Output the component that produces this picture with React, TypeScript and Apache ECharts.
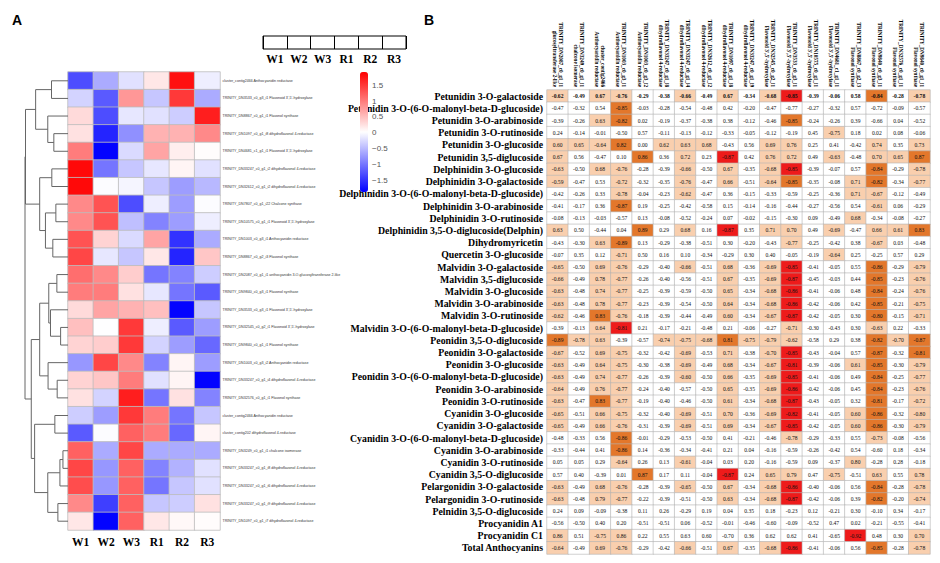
import React, { useEffect, useRef } from "react";
import * as echarts from "echarts";

// ---------- Panel A: expression heatmap ----------
const SAMPLES = ["W1", "W2", "W3", "R1", "R2", "R3"];

const GENES_A = [
  "cluster_contig2466 Anthocyanidin reductase",
  "TRINITY_DN3533_c0_g3_i1 Flavonoid 3',5'-hydroxylase",
  "TRINITY_DN8867_c0_g1_i1 Flavonol synthase",
  "TRINITY_DN1097_c0_g1_i8 dihydroflavonol 4-reductase",
  "TRINITY_DN4681_c1_g1_i1 Flavonoid 3',5'-hydroxylase",
  "TRINITY_DN33247_c0_g1_i2 dihydroflavonol 4-reductase",
  "TRINITY_DN32612_c0_g1_i2 dihydroflavonol 4-reductase",
  "TRINITY_DN7807_c0_g1_i22 Chalcone synthase",
  "TRINITY_DN10575_c0_g1_i1 Flavonoid 3',5'-hydroxylase",
  "TRINITY_DN1003_c0_g3_i1 Anthocyanidin reductase",
  "TRINITY_DN8867_c0_g2_i3 Flavonol synthase",
  "TRINITY_DN2087_c0_g1_i1 anthocyanidin 3-O-glucosyltransferase 2-like",
  "TRINITY_DN9840_c0_g3_i1 Flavonol synthase",
  "TRINITY_DN3533_c0_g3_i1 Flavonoid 3',5'-hydroxylase",
  "TRINITY_DN32545_c0_g2_i1 Flavonoid 3',5'-hydroxylase",
  "TRINITY_DN9840_c0_g1_i1 Flavonol synthase",
  "TRINITY_DN1003_c0_g3_i2 Anthocyanidin reductase",
  "TRINITY_DN33247_c0_g1_i4 dihydroflavonol 4-reductase",
  "TRINITY_DN32576_c0_g1_i1 Flavonol synthase",
  "cluster_contig2466 Anthocyanidin reductase",
  "cluster_contig202 dihydroflavonol 4-reductase",
  "TRINITY_DN3249_c0_g1_i1 chalcone isomerase",
  "TRINITY_DN33247_c0_g1_i8 dihydroflavonol 4-reductase",
  "TRINITY_DN33247_c0_g1_i6 dihydroflavonol 4-reductase",
  "TRINITY_DN33247_c0_g1_i9 dihydroflavonol 4-reductase",
  "TRINITY_DN1097_c0_g1_i7 dihydroflavonol 4-reductase",
];

// row-scaled expression (z-score), one row per gene, columns W1..R3
const EXPR_A = [
  [-1.3, -0.6, -0.2, 0.2, 1.8, -0.1],
  [-0.3, -1.2, 0.8, -0.4, 1.5, -0.6],
  [0.3, -1.3, -0.15, -0.2, -0.35, 1.7],
  [0.25, -1.6, -0.8, 0.6, 0.6, 0.9],
  [1.0, -1.85, -0.25, 0.7, 0.15, 0.05],
  [1.85, -1.0, -0.4, -0.15, 0.1, -0.2],
  [1.85, 0.0, -0.05, -0.4, -0.7, -0.5],
  [0.9, 1.3, -1.3, -0.1, -0.7, 0.0],
  [0.9, 1.3, -0.45, -0.9, -0.7, -0.1],
  [1.3, 0.35, -0.25, 0.7, -1.5, -0.6],
  [1.4, -0.15, -0.4, 0.2, -1.6, 0.45],
  [1.1, 0.9, 0.4, -1.0, -0.9, -0.35],
  [1.0, 1.0, 0.25, -0.15, -1.0, -1.2],
  [0.3, 0.7, 0.6, 0.5, -1.85, -0.4],
  [0.5, 0.02, 1.5, -0.1, -1.2, -0.7],
  [0.35, 0.4, 1.5, -0.3, -0.7, -1.1],
  [-0.75, 1.4, 0.9, -0.9, 0.1, -0.7],
  [0.35, 0.45, 1.0, -0.2, 0.1, -1.85],
  [0.25, -0.3, 1.7, -1.0, 0.25, -0.9],
  [-0.35, -0.7, 1.5, 1.0, -1.0, -0.4],
  [-1.2, 0.0, 1.2, 1.0, -1.1, 0.1],
  [1.2, -0.6, 1.4, -0.6, -0.6, -0.6],
  [1.4, -0.75, 1.2, -0.9, -0.55, -0.2],
  [1.35, -0.75, 1.2, -1.0, -0.4, -0.2],
  [0.9, -1.4, 1.2, -0.4, -0.35, 0.25],
  [0.2, -1.85, 1.2, 0.2, 0.08, 0.05],
];

const SCALE_MIN = -1.87;
const SCALE_MAX = 1.92;
const SCALE_TICKS = [-1.5, -1, -0.5, 0, 0.5, 1, 1.5];

// Row clustering: leaves are row indices, internal nodes carry merge height
type Node = number | { l: Node; r: Node; h: number };
const n = (l: Node, r: Node, h: number): Node => ({ l, r, h });
const ROW_TREE: Node = n(
  n(
    n(n(0, 1, 16.3), n(2, n(3, 4, 14), 20), 32),
    n(n(5, 6, 16), n(n(7, 8, 12), n(9, 10, 15), 22.3), 28),
    42
  ),
  n(
    n(n(n(11, 12, 11), n(13, n(14, 15, 7.3), 17.3), 19), n(16, n(17, 18, 10.7), 19.7), 28),
    n(n(19, 20, 13), n(n(n(21, 22, 5), 23, 8), n(24, 25, 10), 20), 33),
    36.3
  ),
  42.5
);
const TREE_MAX = 43;

// ---------- Panel B: correlation table ----------
const GENE_IDS_B = [
  "TRINITY_DN2087_c0_g1_i1",
  "TRINITY_DN3249_c0_g1_i1",
  "cluster_contig2466",
  "TRINITY_DN1003_c0_g3_i1",
  "TRINITY_DN1003_c0_g3_i2",
  "TRINITY_DN33247_c0_g1_i8",
  "TRINITY_DN33247_c0_g1_i4",
  "TRINITY_DN32612_c0_g1_i2",
  "TRINITY_DN1097_c0_g1_i8",
  "TRINITY_DN33247_c0_g1_i9",
  "TRINITY_DN32545_c0_g2_i1",
  "TRINITY_DN3533_c0_g3_i1",
  "TRINITY_DN10575_c0_g1_i1",
  "TRINITY_DN4681_c1_g1_i1",
  "TRINITY_DN8867_c0_g2_i3",
  "TRINITY_DN9840_c0_g3_i1",
  "TRINITY_DN32576_c0_g1_i1",
  "TRINITY_DN9840_c0_g1_i1",
];
const GENE_DESC_B = [
  "glucosyltransferase 2-like",
  "chalcone isomerase",
  "Anthocyanidin reductase",
  "Anthocyanidin reductase",
  "Anthocyanidin reductase",
  "dihydroflavonol 4-reductase",
  "dihydroflavonol 4-reductase",
  "dihydroflavonol 4-reductase",
  "dihydroflavonol 4-reductase",
  "dihydroflavonol 4-reductase",
  "Flavonoid 3',5'-hydroxylase",
  "Flavonoid 3',5'-hydroxylase",
  "Flavonoid 3',5'-hydroxylase",
  "Flavonoid 3',5'-hydroxylase",
  "Flavonol synthase",
  "Flavonol synthase",
  "Flavonol synthase",
  "Flavonol synthase",
];

const METABOLITES = [
  "Petunidin 3-O-galactoside",
  "Petunidin 3-O-(6-O-malonyl-beta-D-glucoside)",
  "Petunidin 3-O-arabinoside",
  "Petunidin 3-O-rutinoside",
  "Petunidin 3-O-glucoside",
  "Petunidin 3,5-diglucoside",
  "Delphinidin 3-O-glucoside",
  "Delphinidin 3-O-galactoside",
  "Delphinidin 3-O-(6-O-malonyl-beta-D-glucoside)",
  "Delphinidin 3-O-arabinoside",
  "Delphinidin 3-O-rutinoside",
  "Delphinidin 3,5-O-diglucoside(Delphin)",
  "Dihydromyricetin",
  "Quercetin 3-O-glucoside",
  "Malvidin 3-O-galactoside",
  "Malvidin 3,5-diglucoside",
  "Malvidin 3-O-glucoside",
  "Malvidin 3-O-arabinoside",
  "Malvidin 3-O-rutinoside",
  "Malvidin 3-O-(6-O-malonyl-beta-D-glucoside)",
  "Peonidin 3,5-O-diglucoside",
  "Peonidin 3-O-galactoside",
  "Peonidin 3-O-glucoside",
  "Peonidin 3-O-(6-O-malonyl-beta-D-glucoside)",
  "Peonidin 3-O-arabinoside",
  "Peonidin 3-O-rutinoside",
  "Cyanidin 3-O-glucoside",
  "Cyanidin 3-O-galactoside",
  "Cyanidin 3-O-(6-O-malonyl-beta-D-glucoside)",
  "Cyanidin 3-O-arabinoside",
  "Cyanidin 3-O-rutinoside",
  "Cyanidin 3,5-O-diglucoside",
  "Pelargonidin 3-O-galactoside",
  "Pelargonidin 3-O-rutinoside",
  "Pelnidin 3,5-O-diglucoside",
  "Procyanidin A1",
  "Procyanidin C1",
  "Total Anthocyanins",
];

// Pearson r, metabolite (row) x gene (column)
const CORR = [
  [-0.62, -0.49, 0.67, -0.76, -0.29, -0.38, -0.66, -0.49, 0.67, -0.34, -0.68, -0.85, -0.39, -0.06, 0.58, -0.84, -0.28, -0.78],
  [-0.47, -0.32, 0.54, -0.85, -0.03, -0.28, -0.54, -0.48, 0.42, -0.2, -0.47, -0.77, -0.27, -0.32, 0.57, -0.72, -0.09, -0.57],
  [-0.39, -0.26, 0.63, -0.82, 0.02, -0.19, -0.37, -0.38, 0.38, -0.12, -0.46, -0.85, -0.24, -0.26, 0.39, -0.66, 0.04, -0.52],
  [0.24, -0.14, -0.01, -0.5, 0.57, -0.11, -0.13, -0.12, -0.33, -0.05, -0.12, -0.19, 0.45, -0.75, 0.18, 0.02, 0.08, -0.06],
  [0.6, 0.65, -0.64, 0.82, 0.0, 0.62, 0.63, 0.68, -0.43, 0.56, 0.69, 0.76, 0.25, 0.41, -0.42, 0.74, 0.35, 0.73],
  [0.67, 0.56, -0.47, 0.1, 0.86, 0.36, 0.72, 0.23, -0.87, 0.42, 0.76, 0.72, 0.49, -0.63, -0.48, 0.7, 0.65, 0.87],
  [-0.63, -0.5, 0.68, -0.76, -0.28, -0.39, -0.66, -0.5, 0.67, -0.35, -0.68, -0.85, -0.39, -0.07, 0.57, -0.84, -0.29, -0.78],
  [-0.59, -0.47, 0.53, -0.72, -0.32, -0.35, -0.76, -0.47, 0.66, -0.51, -0.64, -0.85, -0.35, -0.08, 0.71, -0.82, -0.34, -0.77],
  [-0.42, -0.26, 0.33, -0.78, -0.04, -0.23, -0.62, -0.47, 0.36, -0.15, -0.33, -0.59, -0.25, -0.36, 0.71, -0.67, -0.12, -0.49],
  [-0.41, -0.17, 0.36, -0.87, 0.19, -0.25, -0.42, -0.58, 0.15, -0.14, -0.16, -0.44, -0.27, -0.56, 0.54, -0.61, 0.06, -0.29],
  [-0.08, -0.13, -0.03, -0.57, 0.13, -0.08, -0.52, -0.24, 0.07, -0.02, -0.15, -0.3, 0.09, -0.49, 0.68, -0.34, -0.08, -0.27],
  [0.63, 0.5, -0.44, 0.04, 0.89, 0.29, 0.68, 0.16, -0.87, 0.35, 0.71, 0.7, 0.49, -0.69, -0.47, 0.66, 0.61, 0.83],
  [-0.43, -0.3, 0.63, -0.89, 0.13, -0.29, -0.38, -0.51, 0.3, -0.2, -0.43, -0.77, -0.25, -0.42, 0.38, -0.67, 0.03, -0.48],
  [-0.07, 0.35, 0.12, -0.71, 0.5, 0.16, 0.1, -0.34, -0.29, 0.3, 0.4, -0.05, -0.19, -0.64, 0.25, -0.25, 0.57, 0.29],
  [-0.65, -0.5, 0.69, -0.76, -0.29, -0.4, -0.66, -0.51, 0.68, -0.36, -0.69, -0.85, -0.41, -0.05, 0.55, -0.86, -0.29, -0.79],
  [-0.66, -0.49, 0.78, -0.77, -0.26, -0.4, -0.56, -0.51, 0.67, -0.35, -0.69, -0.87, -0.45, -0.03, 0.44, -0.85, -0.23, -0.76],
  [-0.63, -0.48, 0.74, -0.77, -0.25, -0.39, -0.59, -0.5, 0.65, -0.34, -0.68, -0.86, -0.41, -0.06, 0.48, -0.84, -0.24, -0.76],
  [-0.63, -0.48, 0.78, -0.77, -0.23, -0.39, -0.54, -0.5, 0.64, -0.34, -0.68, -0.86, -0.42, -0.06, 0.42, -0.85, -0.21, -0.75],
  [-0.62, -0.46, 0.83, -0.76, -0.18, -0.39, -0.44, -0.49, 0.6, -0.34, -0.67, -0.87, -0.42, -0.05, 0.3, -0.8, -0.15, -0.71],
  [-0.39, -0.13, 0.64, -0.81, 0.21, -0.17, -0.21, -0.48, 0.21, -0.06, -0.27, -0.71, -0.3, -0.43, 0.3, -0.63, 0.22, -0.33],
  [-0.89, -0.78, 0.63, -0.39, -0.57, -0.74, -0.75, -0.68, 0.81, -0.75, -0.79, -0.62, -0.58, 0.29, 0.38, -0.82, -0.7, -0.87],
  [-0.67, -0.52, 0.69, -0.75, -0.32, -0.42, -0.69, -0.53, 0.71, -0.38, -0.7, -0.85, -0.43, -0.04, 0.57, -0.87, -0.32, -0.81],
  [-0.63, -0.49, 0.64, -0.75, -0.3, -0.38, -0.69, -0.49, 0.68, -0.34, -0.67, -0.81, -0.39, -0.06, 0.61, -0.85, -0.3, -0.79],
  [-0.63, -0.49, 0.74, -0.77, -0.26, -0.39, -0.6, -0.5, 0.66, -0.35, -0.69, -0.85, -0.41, -0.06, 0.49, -0.84, -0.25, -0.77],
  [-0.64, -0.49, 0.76, -0.77, -0.24, -0.4, -0.57, -0.5, 0.65, -0.35, -0.69, -0.86, -0.42, -0.06, 0.45, -0.84, -0.23, -0.76],
  [-0.63, -0.47, 0.83, -0.77, -0.19, -0.4, -0.46, -0.5, 0.61, -0.34, -0.68, -0.87, -0.43, -0.05, 0.32, -0.81, -0.17, -0.72],
  [-0.65, -0.51, 0.66, -0.75, -0.32, -0.4, -0.69, -0.51, 0.7, -0.36, -0.69, -0.82, -0.41, -0.05, 0.6, -0.86, -0.32, -0.8],
  [-0.65, -0.49, 0.66, -0.76, -0.31, -0.39, -0.69, -0.51, 0.69, -0.34, -0.67, -0.85, -0.42, -0.05, 0.6, -0.86, -0.3, -0.79],
  [-0.48, -0.33, 0.56, -0.86, -0.01, -0.29, -0.53, -0.5, 0.41, -0.21, -0.46, -0.78, -0.29, -0.33, 0.55, -0.73, -0.08, -0.56],
  [-0.33, -0.44, 0.41, -0.86, 0.14, -0.36, -0.34, -0.41, 0.21, 0.04, -0.16, -0.59, -0.26, -0.42, 0.54, -0.6, 0.18, -0.34],
  [0.05, 0.05, 0.29, -0.64, 0.26, 0.13, -0.61, -0.04, 0.03, 0.2, -0.16, -0.59, 0.09, -0.37, 0.8, -0.28, 0.28, -0.18],
  [0.57, 0.4, -0.39, 0.01, 0.87, 0.17, 0.11, -0.04, -0.87, 0.24, 0.65, 0.79, 0.47, -0.75, -0.51, 0.63, 0.55, 0.78],
  [-0.63, -0.49, 0.68, -0.76, -0.28, -0.39, -0.65, -0.5, 0.67, -0.34, -0.68, -0.86, -0.4, -0.06, 0.56, -0.84, -0.28, -0.78],
  [-0.63, -0.48, 0.79, -0.77, -0.22, -0.39, -0.51, -0.5, 0.63, -0.34, -0.68, -0.87, -0.42, -0.06, 0.39, -0.82, -0.2, -0.74],
  [0.24, 0.09, -0.09, -0.38, 0.11, 0.26, -0.29, 0.19, 0.04, 0.35, 0.18, -0.23, 0.12, -0.21, 0.3, -0.1, 0.34, -0.17],
  [-0.56, -0.5, 0.4, 0.2, -0.51, -0.51, 0.06, -0.52, -0.01, -0.46, -0.6, -0.09, -0.52, 0.47, 0.02, -0.21, -0.55, -0.41],
  [0.86, 0.51, -0.75, 0.86, 0.22, 0.55, 0.63, 0.6, -0.7, 0.36, 0.62, 0.62, 0.41, -0.65, -0.92, 0.48, 0.3, 0.7],
  [-0.64, -0.49, 0.69, -0.76, -0.29, -0.42, -0.66, -0.51, 0.67, -0.35, -0.68, -0.86, -0.41, -0.06, 0.56, -0.85, -0.28, -0.78],
];

// significance class per cell: 0 = n.s., 1 = *, 2 = **, 3 = ***
const SIG = [
  "101100101013000201",
  "000200000000000000",
  "001200000002000000",
  "000000000000010000",
  "111201110011000101",
  "100020103011010112",
  "101100101013000201",
  "100100101012001201",
  "000100100000001100",
  "000200000000000100",
  "000000000000001000",
  "100020103011010112",
  "001200000001000100",
  "000100000000010000",
  "101100101013000201",
  "101100001013000201",
  "101100001013000201",
  "101100001013000201",
  "102100001013000201",
  "001300000001000100",
  "211001112111000212",
  "101100101013000202",
  "101100101013001201",
  "101100101013000201",
  "101100001013000201",
  "102100001013000201",
  "101100101013001201",
  "101100101013001201",
  "000200000001000100",
  "000200000000000000",
  "000100100000001000",
  "000020003011010101",
  "101100101013000201",
  "101100001013000201",
  "000000000000000000",
  "000000000000000000",
  "101100000000003001",
  "101100101013000201",
];

const SIG_COLORS = ["#ffffff", "#f9cfae", "#e3772b", "#ee1b1b"];

const SERIF = "'Liberation Serif', 'Times New Roman', serif";
const SANS = "'Liberation Sans', Arial, sans-serif";

function dendrogramSegments(root: Node): number[][] {
  const segs: number[][] = [];
  const walk = (node: Node): { y: number; h: number } => {
    if (typeof node === "number") return { y: node + 0.5, h: 0 };
    const a = walk(node.l);
    const b = walk(node.r);
    segs.push([a.h, a.y, node.h, a.y]);
    segs.push([b.h, b.y, node.h, b.y]);
    segs.push([node.h, a.y, node.h, b.y]);
    return { y: (a.y + b.y) / 2, h: node.h };
  };
  walk(root);
  return segs;
}

function buildOption(): any {
  const heatA: number[][] = [];
  EXPR_A.forEach((row, r) => row.forEach((v, c) => heatA.push([c, r, v])));

  const table: any[] = [];
  CORR.forEach((row, r) =>
    row.forEach((v, c) => {
      const item: any = { value: [c, r, v, Number(SIG[r][c])] };
      if (r === 0) item.label = { fontWeight: "bold" };
      table.push(item);
    })
  );

  const minus = (v: number) => (v < 0 ? "\u2212" + Math.abs(v) : String(v));

  return {
    animation: false,
    backgroundColor: "#ffffff",
    title: [
      { text: "A", left: 12, top: 13, padding: 0, textStyle: { fontSize: 14, fontWeight: "bold", fontFamily: SANS, color: "#000" } },
      { text: "B", left: 424, top: 13, padding: 0, textStyle: { fontSize: 14, fontWeight: "bold", fontFamily: SANS, color: "#000" } },
    ],
    grid: [
      { left: 68, top: 72, width: 152, height: 458 },
      { left: 24.5, top: 72, width: 43.5, height: 458 },
      { left: 263, top: 36, width: 143, height: 13, show: true, borderColor: "#000", borderWidth: 1, backgroundColor: "transparent" },
      { left: 360, top: 72, width: 8, height: 120 },
      { left: 547, top: 90, width: 383, height: 464 },
    ],
    xAxis: [
      {
        gridIndex: 0,
        type: "category",
        data: SAMPLES,
        axisLine: { show: false },
        axisTick: { show: false },
        axisLabel: { margin: 6, fontFamily: SERIF, fontWeight: "bold", fontSize: 11.5, color: "#000" },
      },
      { gridIndex: 1, type: "value", min: 0, max: TREE_MAX, inverse: true, show: false },
      {
        gridIndex: 2,
        type: "category",
        data: SAMPLES,
        axisLine: { show: false },
        axisTick: { show: false },
        splitLine: { show: true, interval: 0, lineStyle: { color: "#000", width: 1 } },
        axisLabel: { margin: 4, fontFamily: SERIF, fontWeight: "bold", fontSize: 11.5, color: "#000" },
      },
      { gridIndex: 3, type: "value", show: false, min: 0, max: 1 },
      {
        gridIndex: 4,
        type: "category",
        position: "top",
        data: GENE_IDS_B,
        axisLine: { show: false },
        axisTick: { show: false },
        axisLabel: {
          interval: 0,
          rotate: 90,
          margin: 3,
          fontFamily: SERIF,
          fontWeight: "bold",
          fontSize: 5.2,
          lineHeight: 6,
          color: "#000",
          formatter: (v: string, i: number) => v + "\n" + GENE_DESC_B[i],
        },
      },
    ],
    yAxis: [
      {
        gridIndex: 0,
        type: "category",
        data: GENES_A,
        inverse: true,
        position: "right",
        axisLine: { show: false },
        axisTick: { show: false },
        axisLabel: { interval: 0, margin: 2.5, fontSize: 3.6, fontFamily: SANS, color: "#333" },
      },
      { gridIndex: 1, type: "value", min: 0, max: GENES_A.length, inverse: true, show: false },
      { gridIndex: 2, type: "value", show: false, min: 0, max: 1 },
      {
        gridIndex: 3,
        type: "value",
        position: "right",
        min: SCALE_MIN,
        max: SCALE_MAX,
        axisLine: { show: false },
        axisTick: { show: false },
        splitLine: { show: false },
        axisLabel: {
          customValues: SCALE_TICKS,
          margin: 4,
          fontSize: 8,
          fontFamily: SANS,
          color: "#555",
          formatter: (v: number) => minus(v),
        },
      },
      {
        gridIndex: 4,
        type: "category",
        data: METABOLITES,
        inverse: true,
        axisLine: { show: false },
        axisTick: { show: false },
        axisLabel: { interval: 0, margin: 4, fontFamily: SERIF, fontWeight: "bold", fontSize: 9.8, color: "#000" },
      },
    ],
    visualMap: [
      {
        type: "continuous",
        seriesIndex: 0,
        dimension: 2,
        min: SCALE_MIN,
        max: SCALE_MAX,
        calculable: false,
        orient: "vertical",
        left: 360,
        top: 72,
        padding: 0,
        itemWidth: 8,
        itemHeight: 120,
        inRange: { color: ["#0000ff", "#ffffff", "#ff0000"] },
      },
      {
        type: "piecewise",
        seriesIndex: 2,
        dimension: 3,
        show: false,
        pieces: SIG_COLORS.map((color, i) => ({ value: i, color })),
      },
    ],
    series: [
      {
        type: "heatmap",
        xAxisIndex: 0,
        yAxisIndex: 0,
        data: heatA,
        itemStyle: { borderColor: "#bdbdbd", borderWidth: 0.8 },
        emphasis: { disabled: true },
      },
      {
        type: "custom",
        xAxisIndex: 1,
        yAxisIndex: 1,
        data: dendrogramSegments(ROW_TREE),
        encode: { x: [0, 2], y: [1, 3] },
        renderItem: (_p: any, api: any) => {
          const a = api.coord([api.value(0), api.value(1)]);
          const b = api.coord([api.value(2), api.value(3)]);
          return {
            type: "line",
            shape: { x1: a[0], y1: a[1], x2: b[0], y2: b[1] },
            style: { stroke: "#666", lineWidth: 1 },
          };
        },
        silent: true,
      },
      {
        type: "heatmap",
        xAxisIndex: 4,
        yAxisIndex: 4,
        data: table,
        itemStyle: { borderColor: "#b3b3b3", borderWidth: 0.6 },
        label: {
          show: true,
          fontSize: 5.6,
          fontFamily: SERIF,
          color: "#111",
          formatter: (p: any) => Number(p.value[2]).toFixed(2),
        },
        emphasis: { disabled: true },
      },
    ],
  };
}

export default function App() {
  const ref = useRef<HTMLDivElement>(null);
  useEffect(() => {
    document.body.style.margin = "0";
    const chart = echarts.init(ref.current!, null, { renderer: "svg" });
    chart.setOption(buildOption());
    return () => chart.dispose();
  }, []);
  return <div ref={ref} style={{ width: 940, height: 563 }} />;
}
